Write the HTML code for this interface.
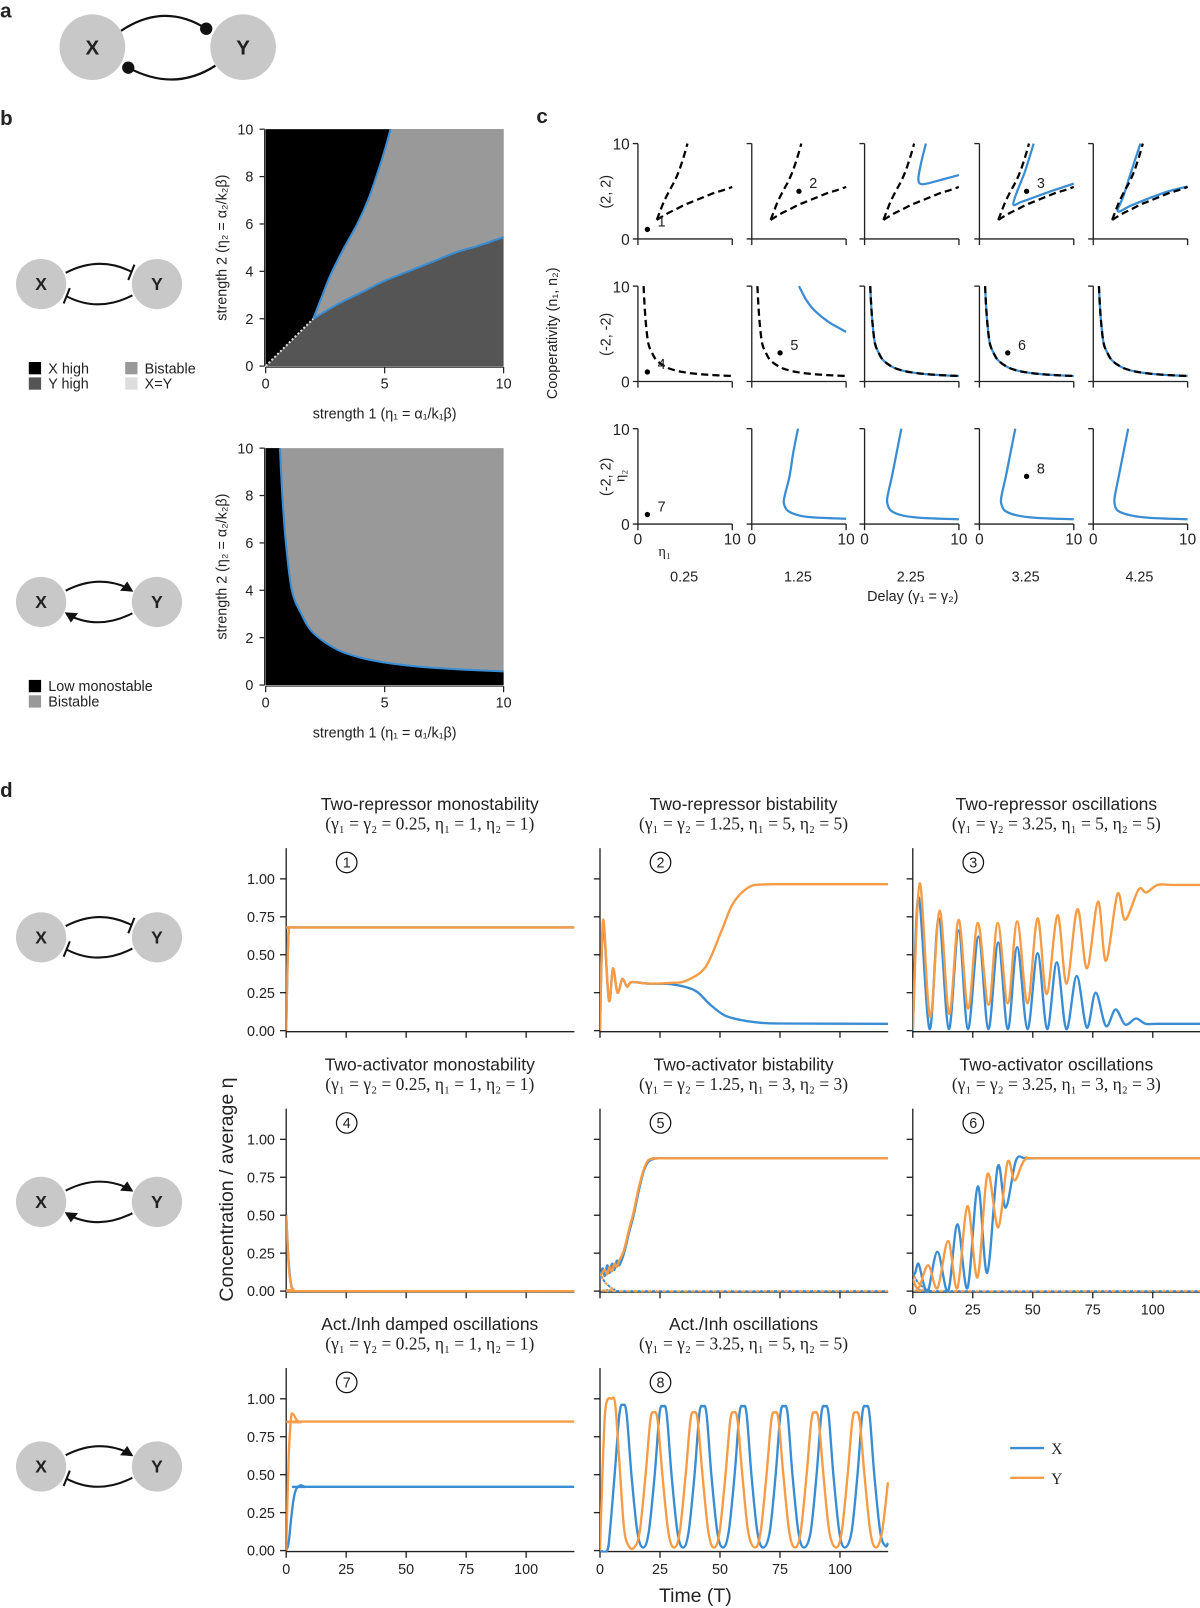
<!DOCTYPE html>
<html><head><meta charset="utf-8"><style>
html,body{margin:0;padding:0;background:#fff;}
svg{display:block;}
text{font-family:"Liberation Sans",sans-serif;fill:#222;}
.serif{font-family:"Liberation Serif","DejaVu Serif",serif;}
</style></head><body>
<svg id="fig" xmlns="http://www.w3.org/2000/svg" width="1200" height="1608" viewBox="0 0 1170 1568">
<rect x="0" y="0" width="1170" height="1568" fill="#fff"/>
<text x="0" y="17" font-size="20" font-weight="bold">a</text>
<text x="0" y="122" font-size="20" font-weight="bold">b</text>
<text x="523" y="120" font-size="20" font-weight="bold">c</text>
<text x="0" y="777" font-size="20" font-weight="bold">d</text>
</svg>
<script>
const NS='http://www.w3.org/2000/svg';
const svg=document.getElementById('fig');
const BLUE='#3a8dd3', ORANGE='#f79b45';

// ---------- DATA ----------
// Panel b top: boundary curves (eta1, eta2)
const bTopUpperX=[2,2.35,2.75,3.3,3.85,4.3,4.65,4.97,5.25];
const bTopUpperY=[2,2.9,3.9,5,6,7,8,9,10];
const bTopLowerX=[2,3,4,5,6,7,8,9,10];
const bTopLowerY=[2,2.6,3.1,3.6,4.0,4.4,4.8,5.1,5.45];
// Panel b bottom boundary
const bBotX=[0.6,0.7,0.85,1.1,1.5,2,3,4,5,6,7,8,9,10];
const bBotY=[10,8,6,4,3,2.2,1.5,1.15,0.95,0.82,0.73,0.67,0.62,0.58];
const bTicksY=[0,2,4,6,8,10];
const bTicksX=[0,5,10];
// Panel c
const cDelays=['0.25','1.25','2.25','3.25','4.25'];
const cRowLabels=['(2, 2)','(-2, -2)','(-2, 2)'];
const cDotX=[1,5,null,5,null, 1,3,null,3,null, 1,null,null,5,null];
const cDotY=[1,5,null,5,null, 1,3,null,3,null, 1,null,null,5,null];
const cDotLabel=['1','2','','3','', '4','5','','6','', '7','','','8',''];
const cR1b3X=[6.5,6.0,5.7,6.0,7,8.5,10];
const cR1b3Y=[10,8,6.3,5.75,5.9,6.3,6.7];
const cR1b4X=[5.75,4.8,4,3.6,4.5,7,10];
const cR1b4Y=[10,7,5,3.6,3.9,4.8,5.8];
const cR1b5X=[5,4,3.2,2.6,4,6,8,10];
const cR1b5Y=[10,7,4.5,2.9,3.5,4.3,5,5.5];
const cR2b2X=[5,5.8,6.7,8.2,10];
const cR2b2Y=[10,8.5,7.4,6.2,5.2];
const cR3b2X=[4.9,4.4,4.0,3.5,3.4,3.8,5,6.5,10];
const cR3b2Y=[10,7.5,5,3,2.2,1.4,0.9,0.7,0.55];
const cR3b3X=[3.9,3.4,2.9,2.45,2.4,2.8,4,6,10];
const cR3b3Y=[10,7.5,5,3,2.2,1.4,0.9,0.65,0.5];
const cR3b4X=[3.8,3.3,2.8,2.35,2.3,2.7,4,6,10];
const cR3b4Y=[10,7.5,5,3,2.2,1.4,0.9,0.65,0.5];
const cR3b5X=[3.7,3.2,2.7,2.3,2.25,2.6,4,6,10];
const cR3b5Y=[10,7.5,5,3,2.2,1.4,0.9,0.65,0.5];
// Panel d time series
const dTicksX=[0,25,50,75,100];
const dTicksY=[0,0.25,0.5,0.75,1.0];
const dTickLabY=['0.00','0.25','0.50','0.75','1.00'];
const p1T=[0,0.5,1,1.5,2,120]; const p1X=[0,0.4,0.65,0.68,0.68,0.68]; const p1Y=[0,0.4,0.65,0.68,0.68,0.68];
const p2XT=[0,1.3,3.7,5.4,7.3,9.3,11.3,13.2,20,30,39.5,46,52,58.7,65,75,120];
const p2X=[0,0.7,0.2,0.41,0.25,0.34,0.29,0.32,0.31,0.305,0.265,0.17,0.1,0.07,0.055,0.047,0.045];
const p2YT=[0,1.3,3.7,5.4,7.3,9.3,11.3,13.2,20,30,36,44,50.7,55.5,62,68,80,120];
const p2Y=[0,0.73,0.2,0.41,0.25,0.34,0.29,0.32,0.31,0.315,0.33,0.42,0.66,0.84,0.945,0.963,0.965,0.965];
const p3XT=[0,2.4,7,10.8,15,19.1,23,27.4,31.5,35.6,39.6,43.5,47.8,52,56,60,64,68.3,72.5,76.2,80.5,84.5,88.5,93,97,102,120];
const p3X=[0,0.88,0.01,0.74,0.01,0.66,0.01,0.62,0.01,0.58,0.01,0.55,0.01,0.51,0.01,0.45,0.01,0.36,0.02,0.25,0.03,0.14,0.04,0.08,0.045,0.045,0.045];
const p3YT=[0,2.9,7.2,11.2,15.2,19.1,23.1,27.1,31.6,35.4,39.6,43.5,47.8,52,55.8,60.3,64.1,68.6,72.6,77.2,80.5,85.3,88.5,94.1,97.3,102,108,120];
const p3Y=[0,0.97,0.09,0.79,0.11,0.73,0.145,0.71,0.17,0.71,0.18,0.72,0.18,0.74,0.24,0.76,0.31,0.80,0.41,0.85,0.46,0.90,0.73,0.93,0.91,0.96,0.96,0.96];
const p4T=[0,1,2,3,5,120]; const p4X=[0.5,0.2,0.05,0.01,0,0]; const p4Y=[0.5,0.18,0.04,0.01,0,0];
const p5XT=[0,1,2,3,4,5,6,7,8,10,12,14,16,18,20,22.7,26,30,120];
const p5X=[0.08,0.15,0.1,0.17,0.12,0.18,0.14,0.2,0.17,0.25,0.38,0.5,0.65,0.78,0.85,0.873,0.875,0.875,0.875];
const p5YT=[0,1,2,3,4,5,6,7,8,10,12,14,16,18,20,22.7,26,30,120];
const p5Y=[0.1,0.12,0.14,0.11,0.16,0.13,0.18,0.16,0.2,0.27,0.4,0.52,0.67,0.79,0.86,0.874,0.875,0.875,0.875];
const pDashT=[0,2,4,6,10,120]; const pDashV=[0.12,0.06,0.03,0.01,0,0];
const p6XT=[0,1,2.4,4.5,6.4,10.3,14.7,18.6,22.8,27.1,31,35.4,38.7,43,47,55,120];
const p6X=[0.1,0.12,0.18,0.05,0.0,0.26,0.0,0.44,0.02,0.69,0.12,0.82,0.55,0.86,0.875,0.875,0.875];
const p6YT=[0,2.4,6.4,10.3,14.7,18.6,22.8,27,31.1,35.6,39.5,42.5,47,55,120];
const p6Y=[0.08,0.02,0.17,0.02,0.33,0.02,0.56,0.09,0.77,0.42,0.85,0.73,0.87,0.875,0.875];
const p7XT=[0,1,2,3,4,5,6,8,12,120]; const p7X=[0,0.05,0.2,0.33,0.4,0.42,0.43,0.42,0.42,0.42];
const p7YT=[0,1,2,2.8,4,5,6,8,120]; const p7Y=[0,0.6,0.87,0.9,0.87,0.85,0.845,0.85,0.85];
const p8XT=[0,3,4.1,6.1,8.1,9.6,11.1,13.1,15.6,18,
 20.3,22.8,24.8,26.3,27.8,29.8,32.3,34.6,
 36.9,39.4,41.4,42.9,44.4,46.4,48.9,51.2,
 53.6,56.1,58.1,59.6,61.1,63.1,65.6,68,
 70.7,73.2,75.2,76.7,78.2,80.2,82.7,85,
 87.75,90.25,92.25,93.75,95.25,97.25,99.75,102,
 104.8,107.3,109.3,110.8,112.3,114.3,116.8,119,120];
const p8X=[0,0,0.12,0.5,0.9,0.96,0.9,0.5,0.12,0.02,
 0.12,0.5,0.9,0.95,0.9,0.5,0.12,0.02,
 0.12,0.5,0.9,0.95,0.9,0.5,0.12,0.02,
 0.12,0.5,0.9,0.95,0.9,0.5,0.12,0.02,
 0.12,0.5,0.9,0.95,0.9,0.5,0.12,0.02,
 0.12,0.5,0.9,0.95,0.9,0.5,0.12,0.02,
 0.12,0.5,0.9,0.95,0.9,0.5,0.12,0.03,0.05];
const p8YT=[0,1,2,3,4.7,6.3,8,10,12,
 14.2,16.5,19,21,22.5,24,26,28.5,
 30.9,33.2,35.7,37.7,39.2,40.7,42.7,45.2,
 47.5,49.8,52.3,54.3,55.8,57.3,59.3,61.8,
 64.6,66.9,69.4,71.4,72.9,74.4,76.4,78.9,
 81.3,83.6,86.1,88.1,89.6,91.1,93.1,95.6,
 98.4,100.7,103.2,105.2,106.7,108.2,110.2,112.7,
 115,117.5,120];
const p8Y=[0,0.5,0.88,0.99,1.0,0.97,0.6,0.15,0.03,
 0.02,0.12,0.5,0.86,0.91,0.86,0.5,0.12,
 0.02,0.12,0.5,0.86,0.91,0.86,0.5,0.12,
 0.02,0.12,0.5,0.86,0.91,0.86,0.5,0.12,
 0.02,0.12,0.5,0.86,0.91,0.86,0.5,0.12,
 0.02,0.12,0.5,0.86,0.91,0.86,0.5,0.12,
 0.02,0.12,0.5,0.86,0.91,0.86,0.5,0.12,
 0.02,0.12,0.45];

// ---------- helpers ----------
function mk(tag,parent){const e=document.createElementNS(NS,tag);(parent||svg).appendChild(e);return e;}
function at(e,o){for(const k in o)e.setAttribute(k,o[k]);return e;}
function cr(pts){
  if(pts.length<2)return '';
  let d='M'+pts[0][0].toFixed(2)+','+pts[0][1].toFixed(2);
  for(let i=0;i<pts.length-1;i++){
    const p0=pts[i-1]||pts[i],p1=pts[i],p2=pts[i+1],p3=pts[i+2]||p2;
    const c1=[p1[0]+(p2[0]-p0[0])/6,p1[1]+(p2[1]-p0[1])/6];
    const c2=[p2[0]-(p3[0]-p1[0])/6,p2[1]-(p3[1]-p1[1])/6];
    d+='C'+c1.map(v=>v.toFixed(2))+' '+c2.map(v=>v.toFixed(2))+' '+p2[0].toFixed(2)+','+p2[1].toFixed(2);
  }
  return d;
}
function txt(x,y,s,size,anchor,parent,cls){const t=mk('text',parent);at(t,{x:x,y:y,'font-size':size,'text-anchor':anchor||'start'});if(cls)t.setAttribute('class',cls);t.textContent=s;return t;}
function line(x1,y1,x2,y2,parent,w,c){return at(mk('line',parent),{x1:x1,y1:y1,x2:x2,y2:y2,stroke:c||'#222','stroke-width':w||1.3});}

// ---------- network diagrams ----------
function diagram(cx1,cy,r,kind,name){
  const g=mk('g');
  
  
  const cx2=cx1+113;
  [[cx1,'X'],[cx2,'Y']].forEach(([cx,l])=>{
    const c=at(mk('circle',g),{cx:cx,cy:cy,r:r,fill:'#c8c8c8'});
    
    
    const t=txt(cx,cy+6,l,17,'middle',g);at(t,{'font-weight':'bold'});
    
    
  });
  const top=at(mk('path',g),{d:`M${cx1+24},${cy-11} Q${cx1+57},${cy-28} ${cx1+88},${cy-12}`,fill:'none',stroke:'#111','stroke-width':2});
  
  
  const bot=at(mk('path',g),{d:`M${cx2-24},${cy+11} Q${cx2-57},${cy+28} ${cx2-88},${cy+12}`,fill:'none',stroke:'#111','stroke-width':2});
  
  
  if(kind[0]==='bar'){line(cx1+91,cy-19,cx1+85,cy-4,g,2,'#111');}
  else{at(mk('path',g),{d:`M${cx1+90},${cy-10} L${cx1+77},${cy-11} L${cx1+84},${cy-20} Z`,fill:'#111'});}
  if(kind[1]==='bar'){line(cx2-91,cy+19,cx2-85,cy+4,g,2,'#111');}
  else{at(mk('path',g),{d:`M${cx2-90},${cy+10} L${cx2-77},${cy+11} L${cx2-84},${cy+20} Z`,fill:'#111'});}
}
(function(){
  const g=mk('g');
  
  
  [[90,'X'],[237,'Y']].forEach(([cx,l])=>{
    const c=at(mk('circle',g),{cx:cx,cy:46,r:32,fill:'#c8c8c8'});
    
    
    const t=txt(cx,53,l,20,'middle',g);at(t,{'font-weight':'bold'});
    
    
  });
  at(mk('path',g),{d:'M118,30 Q160,2 201,28',fill:'none',stroke:'#111','stroke-width':2.2});
  at(mk('circle',g),{cx:201,cy:28,r:6,fill:'#111'});
  at(mk('path',g),{d:'M125,66 Q170,90 210,64',fill:'none',stroke:'#111','stroke-width':2.2});
  at(mk('circle',g),{cx:125,cy:66,r:6,fill:'#111'});
})();
diagram(40,277,24.5,['bar','bar'],'repressor-diagram-b');
diagram(40,587,24.5,['arrow','arrow'],'activator-diagram-b');
diagram(40,914,24.5,['bar','bar'],'repressor-diagram-d');
diagram(40,1172,24.5,['arrow','arrow'],'activator-diagram-d');
diagram(40,1430,24.5,['arrow','bar'],'act-inh-diagram-d');

function legendSq(x,y,c,label,name){
  const r=at(mk('rect'),{x:x,y:y,width:12,height:12,fill:c});
  
  
  const t=txt(x+19,y+11,label,14,'start');
  
  
}
legendSq(28,353,'#000','X high','legend-x-high');
legendSq(28,368,'#555','Y high','legend-y-high');
legendSq(122,353,'#999','Bistable','legend-bistable');
legendSq(122,368,'#ddd','X=Y','legend-x-equals-y');
legendSq(28,663,'#000','Low monostable','legend-low-monostable');
legendSq(28,678,'#999','Bistable','legend-bistable-2');

// ---------- panel b heatmaps ----------
function bPlot(y0,name){
  const x0=259,w=232,h=231;
  const sx=v=>x0+v*w/10, sy=v=>y0-v*h/10;
  const g=mk('g');
  
  
  return {g,x0,y0,w,h,sx,sy};
}
function bAxes(P){
  const {g,x0,y0,w,h,sx,sy}=P;
  line(x0-1,y0,x0-1,y0-h,g,1.2);
  line(x0,y0+1,x0+w,y0+1,g,1.2);
  bTicksY.forEach(v=>{line(x0-6,sy(v),x0-1,sy(v),g,1.2);const t=txt(x0-12,sy(v)+5,String(v),14,'end',g);});
  bTicksX.forEach(v=>{line(sx(v),y0+1,sx(v),y0+7,g,1.2);const t=txt(sx(v),y0+22,String(v),14,'middle',g);});
  const xl=txt(x0+w/2,y0+51,'strength 1 (η₁ = α₁/k₁β)',14,'middle',g);
  
  
  const yl=txt(0,0,'strength 2 (η₂ = α₂/k₂β)',14,'middle',g);
  at(yl,{transform:`translate(${x0-38},${y0-h/2}) rotate(-90)`});
  
  
}
(function(){
  const P=bPlot(357,'heatmap-repressor');
  const {g,x0,y0,w,h,sx,sy}=P;
  const bg=at(mk('rect',g),{x:x0,y:y0-h,width:w,height:h,fill:'#555'});
  
  
  let up=bTopUpperX.map((v,i)=>[sx(v),sy(bTopUpperY[i])]);
  let lo=bTopLowerX.map((v,i)=>[sx(v),sy(bTopLowerY[i])]);
  const upD=cr(up), loD=cr(lo);
  const black=at(mk('path',g),{d:`M${sx(0)},${sy(0)} L${sx(2)},${sy(2)} `+upD.replace(/^M[^C]*/,'')+` L${sx(0)},${sy(10)} Z`,fill:'#000'});
  
  
  const loRev=lo.slice().reverse();
  const bist=at(mk('path',g),{d:upD+` L${sx(10)},${sy(10)} L${loRev[0][0]},${loRev[0][1]} `+cr(loRev).replace(/^M[^C]*/,'')+' Z',fill:'#999'});
  
  
  const diag=line(sx(0),sy(0),sx(2),sy(2),g,2,'#ddd');
  at(diag,{'stroke-dasharray':'2,2'});
  
  
  [upD,loD].forEach(d=>{const p=at(mk('path',g),{d:d,fill:'none',stroke:BLUE,'stroke-width':2});});
  bAxes(P);
})();
(function(){
  const P=bPlot(668,'heatmap-activator');
  const {g,x0,y0,w,h,sx,sy}=P;
  const bg=at(mk('rect',g),{x:x0,y:y0-h,width:w,height:h,fill:'#999'});
  
  
  const pts=bBotX.map((v,i)=>[sx(v),sy(bBotY[i])]);
  const d=cr(pts);
  const black=at(mk('path',g),{d:`M${sx(0)},${sy(0)} L${sx(0)},${sy(10)} L${pts[0][0]},${pts[0][1]} `+d.replace(/^M[^C]*/,'')+` L${sx(10)},${sy(0)} Z`,fill:'#000'});
  
  
  const p=at(mk('path',g),{d:d,fill:'none',stroke:BLUE,'stroke-width':2});
  
  
  bAxes(P);
})();

// ---------- panel c grid ----------
const cCols=[622,733,843,955,1066];
function cCurve(g,sx,sy,xs,ys,color,dash,name){
  const p=at(mk('path',g),{d:cr(xs.map((v,i)=>[sx(v),sy(ys[i])])),fill:'none',stroke:color,'stroke-width':2.2});
  if(dash)p.setAttribute('stroke-dasharray','7,4');
  
  
}
const cBlue={ '0-2':[cR1b3X,cR1b3Y],'0-3':[cR1b4X,cR1b4Y],'0-4':[cR1b5X,cR1b5Y],
  '1-1':[cR2b2X,cR2b2Y],'1-2':[bBotX,bBotY],'1-3':[bBotX,bBotY],'1-4':[bBotX,bBotY],
  '2-1':[cR3b2X,cR3b2Y],'2-2':[cR3b3X,cR3b3Y],'2-3':[cR3b4X,cR3b4Y],'2-4':[cR3b5X,cR3b5Y]};
for(let r=0;r<3;r++){
  for(let k=0;k<5;k++){
    const x0=cCols[k], y0=233+139*r;
    const sx=v=>x0+v*9.2, sy=v=>y0-v*9.3;
    const g=mk('g');
    
    
    line(x0,sy(10),x0,y0,g,1.3);
    line(x0-5,sy(10),x0,sy(10),g,1.3);
    line(x0-5,y0,x0+92,y0,g,1.3);
    line(x0,y0,x0,y0+6,g,1.3);
    line(x0+92,y0,x0+92,y0+6,g,1.3);
    if(k===0){
      const a=txt(x0-8,sy(10)+6,'10',15,'end',g);
      const b=txt(x0-8,y0+6,'0',15,'end',g);
      const rl=txt(0,0,cRowLabels[r],14,'middle',g);at(rl,{transform:`translate(${x0-27},${y0-46}) rotate(-90)`});
      
      
    }
    if(r===2){
      const a=txt(x0,y0+20,'0',15,'middle',g);
      const b=txt(x0+92,y0+20,'10',15,'middle',g);
      const dl=txt(x0+45,y0+56,cDelays[k],14,'middle',g);
      
      
    }
    const key=r+'-'+k;
    if(cBlue[key])cCurve(g,sx,sy,cBlue[key][0],cBlue[key][1],BLUE,false,'oscillation-boundary');
    if(r===0){cCurve(g,sx,sy,bTopUpperX,bTopUpperY,'#000',true,'bistability-boundary');cCurve(g,sx,sy,bTopLowerX,bTopLowerY,'#000',true,'bistability-boundary');}
    if(r===1){cCurve(g,sx,sy,bBotX,bBotY,'#000',true,'bistability-boundary');}
    const i=r*5+k;
    if(cDotX[i]!==null){
      const d=at(mk('circle',g),{cx:sx(cDotX[i]),cy:sy(cDotY[i]),r:2.6,fill:'#000'});
      
      
      const t=txt(sx(cDotX[i])+10,sy(cDotY[i])-3,cDotLabel[i],14,'start',g);
      
      
    }
  }
}
(function(){
  const e1=txt(0,0,'η₁',14,'middle');at(e1,{x:648,y:542,'class':'serif'});
  
  
  const e2=txt(0,0,'η₂',14,'middle');at(e2,{transform:'translate(609,464) rotate(-90)','class':'serif'});
  
  
  const d=txt(890,586,'Delay (γ₁ = γ₂)',14,'middle');
  
  
  const c=txt(0,0,'Cooperativity (n₁, n₂)',14,'middle');at(c,{transform:'translate(543,325) rotate(-90)'});
  
  
})();

// ---------- panel d ----------
const dCols=[279,585,890], dRows=[1005,1259,1512];
const dPanels=[
 {c:0,r:0,n:'1',t:'Two-repressor monostability',s:'(γ₁ = γ₂ = 0.25, η₁ = 1, η₂ = 1)',X:[p1T,p1X],Y:[p1T,p1Y]},
 {c:1,r:0,n:'2',t:'Two-repressor bistability',s:'(γ₁ = γ₂ = 1.25, η₁ = 5, η₂ = 5)',X:[p2XT,p2X],Y:[p2YT,p2Y]},
 {c:2,r:0,n:'3',t:'Two-repressor oscillations',s:'(γ₁ = γ₂ = 3.25, η₁ = 5, η₂ = 5)',X:[p3XT,p3X],Y:[p3YT,p3Y]},
 {c:0,r:1,n:'4',t:'Two-activator monostability',s:'(γ₁ = γ₂ = 0.25, η₁ = 1, η₂ = 1)',X:[p4T,p4X],Y:[p4T,p4Y]},
 {c:1,r:1,n:'5',t:'Two-activator bistability',s:'(γ₁ = γ₂ = 1.25, η₁ = 3, η₂ = 3)',X:[p5XT,p5X],Y:[p5YT,p5Y],dash:true},
 {c:2,r:1,n:'6',t:'Two-activator oscillations',s:'(γ₁ = γ₂ = 3.25, η₁ = 3, η₂ = 3)',X:[p6XT,p6X],Y:[p6YT,p6Y],dash:true,xl:true},
 {c:0,r:2,n:'7',t:'Act./Inh damped oscillations',s:'(γ₁ = γ₂ = 0.25, η₁ = 1, η₂ = 1)',X:[p7XT,p7X],Y:[p7YT,p7Y],xl:true},
 {c:1,r:2,n:'8',t:'Act./Inh oscillations',s:'(γ₁ = γ₂ = 3.25, η₁ = 5, η₂ = 5)',X:[p8XT,p8X],Y:[p8YT,p8Y],xl:true}
];
dPanels.forEach((P,idx)=>{
  const x0=dCols[P.c], y0=dRows[P.r];
  const sx=t=>x0+t*2.34, sy=v=>y0-v*148;
  const g=mk('g');
  
  
  const cp=mk('clipPath',g);cp.setAttribute('id','cp'+idx);
  at(mk('rect',cp),{x:x0,y:y0-180,width:282,height:182});
  const t1=txt(x0+140,y0-215,P.t,17,'middle',g);
  
  
  const t2=txt(x0+140,y0-196,P.s,17,'middle',g);t2.setAttribute('class','serif');
  
  
  const cc=at(mk('circle',g),{cx:x0+59,cy:y0-164,r:10,fill:'none',stroke:'#111','stroke-width':1.2});
  
  
  const cn=txt(x0+59,y0-159,P.n,14,'middle',g);
  
  
  line(x0,y0-178,x0,y0+2,g,1.3);
  line(x0,y0+1,x0+281,y0+1,g,1.3);
  dTicksY.forEach((v,i)=>{line(x0-6,sy(v),x0,sy(v),g,1.3);
    if(P.c===0){const t=txt(x0-11,sy(v)+5,dTickLabY[i],14,'end',g);}});
  dTicksX.forEach(v=>{line(sx(v),y0+1,sx(v),y0+7,g,1.3);
    if(P.xl){const t=txt(sx(v),y0+23,String(v),14,'middle',g);}});
  const cg=mk('g',g);cg.setAttribute('clip-path','url(#cp'+idx+')');
  if(P.dash){
    [[BLUE,'3,4',0],[ORANGE,'3,4',3.5]].forEach(([c,da,off])=>{
      const p=at(mk('path',cg),{d:cr(pDashT.map((t,i)=>[sx(t),sy(pDashV[i])])),fill:'none',stroke:c,'stroke-width':2,'stroke-dasharray':da,'stroke-dashoffset':off});
      
      
    });
  }
  const px=at(mk('path',cg),{d:cr(P.X[0].map((t,i)=>[sx(t),sy(P.X[1][i])])),fill:'none',stroke:BLUE,'stroke-width':2.3});
  
  
  const py=at(mk('path',cg),{d:cr(P.Y[0].map((t,i)=>[sx(t),sy(P.Y[1][i])])),fill:'none',stroke:ORANGE,'stroke-width':2.3});
  
  
});
(function(){
  const yl=txt(0,0,'Concentration / average η',19,'middle');at(yl,{transform:'translate(227,1160) rotate(-90)'});
  
  
  const xl=txt(678,1562,'Time (T)',19,'middle');
  
  
  const l1=line(985,1412,1018,1412,null,2.3,BLUE);
  
  
  const t1=txt(1025,1418,'X',15,'start');t1.setAttribute('class','serif');
  
  
  const l2=line(985,1441,1018,1441,null,2.3,ORANGE);
  
  
  const t2=txt(1025,1447,'Y',15,'start');t2.setAttribute('class','serif');
  
  
})();
</script>
</body></html>
